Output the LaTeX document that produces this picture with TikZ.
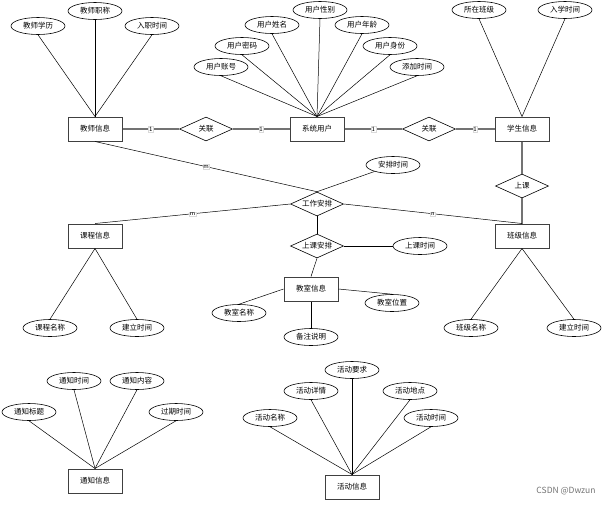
\documentclass[tikz,border=0pt]{standalone}
\usepackage{fontspec}
\newfontfamily\cjk{Noto Sans CJK SC}
\usetikzlibrary{shapes.geometric}
\begin{document}
\begin{tikzpicture}[x=1pt,y=-1pt,
  txt/.style={font=\cjk\fontsize{7.5}{9}\selectfont},
  ent/.style={txt,rectangle,draw=black!75,line width=1pt,minimum width=54pt,minimum height=24pt,inner sep=0pt},
  attr/.style={txt,ellipse,draw,line width=0.6pt,minimum width=54pt,minimum height=17pt,inner sep=0pt},
  rel/.style={txt,diamond,draw,line width=0.6pt,aspect=2.2,minimum width=53pt,minimum height=24pt,inner sep=0.5pt},
  al/.style={draw=black,line width=0.5pt},
  gl/.style={draw=black!55,line width=1.1pt},
  bl/.style={draw=black,line width=0.8pt},
  card/.style={font=\sffamily\fontsize{6.5}{7}\selectfont,text=black,fill=white,draw=black!15,line width=0.3pt,inner sep=0.6pt}
]
\useasboundingbox (0,0) rectangle (604,504);
\fill[white] (0,0) rectangle (604,504);

% entities
\node[ent] (js) at (95,129) {教师信息};
\node[ent] (xt) at (317,129) {系统用户};
\node[ent] (xs) at (522,129) {学生信息};
\node[ent] (kc) at (95,236) {课程信息};
\node[ent] (bj) at (522,236) {班级信息};
\node[ent] (jsx) at (311,289) {教室信息};
\node[ent] (tz) at (95,481) {通知信息};
\node[ent] (hd) at (352,487) {活动信息};

% relations
\node[rel] (gl1) at (206,129) {关联};
\node[rel] (gl2) at (429,129) {关联};
\node[rel] (gz) at (317,204) {工作安排};
\node[rel] (sk) at (317,246) {上课安排};
\node[rel] (skr) at (522,186) {上课};

% teacher attributes
\node[attr] (jsxl) at (38,26) {教师学历};
\node[attr] (jszc) at (95,11) {教师职称};
\node[attr] (rzsj) at (152,26) {入职时间};
% system user attributes
\node[attr] (yhzh) at (221,67) {用户账号};
\node[attr] (yhmm) at (242,46) {用户密码};
\node[attr] (yhxm) at (272,25) {用户姓名};
\node[attr] (yhxb) at (320,10) {用户性别};
\node[attr] (yhnl) at (362,25) {用户年龄};
\node[attr] (yhsf) at (390,46) {用户身份};
\node[attr] (tjsj) at (417,67) {添加时间};
% student attributes
\node[attr] (szbj) at (479,10) {所在班级};
\node[attr] (rxsj) at (565,10) {入学时间};
% schedule
\node[attr] (apsj) at (393,165) {安排时间};
\node[attr] (sksj) at (420,246) {上课时间};
% course
\node[attr] (kcmc) at (50,328) {课程名称};
\node[attr] (kcjl) at (137,328) {建立时间};
% class
\node[attr] (bjmc) at (471,328) {班级名称};
\node[attr] (bjjl) at (574,328) {建立时间};
% classroom
\node[attr] (jsmc) at (239,313) {教室名称};
\node[attr] (jswz) at (392,303) {教室位置};
\node[attr] (bzsm) at (311,337) {备注说明};
% notice
\node[attr] (tzsj) at (74,381) {通知时间};
\node[attr] (tznr) at (137,381) {通知内容};
\node[attr] (tzbt) at (29,412) {通知标题};
\node[attr] (gqsj) at (176,412) {过期时间};
% activity
\node[attr] (hdyq) at (352,370) {活动要求};
\node[attr] (hdxq) at (311,391) {活动详情};
\node[attr] (hddd) at (410,391) {活动地点};
\node[attr] (hdmc) at (270,418) {活动名称};
\node[attr] (hdsj) at (431,418) {活动时间};

% attribute lines
\foreach \a in {jsxl,jszc,rzsj} \draw[al] (\a.south) -- (js.north);
\foreach \a in {yhzh,yhmm,yhxm,yhxb,yhnl,yhsf,tjsj} \draw[al] (\a.south) -- (xt.north);
\foreach \a in {szbj,rxsj} \draw[al] (\a.south) -- (xs.north);
\foreach \a in {kcmc,kcjl} \draw[al] (kc.south) -- (\a.north);
\foreach \a in {bjmc,bjjl} \draw[al] (bj.south) -- (\a.north);
\foreach \a in {tzsj,tznr,tzbt,gqsj} \draw[al] (\a.south) -- (tz.north);
\foreach \a in {hdyq,hdxq,hddd,hdmc,hdsj} \draw[al] (\a.south) -- (hd.north);
\draw[al] (jsx.west) -- (jsmc.north);
\draw[al] (jsx.east) -- (jswz.north);
\draw[bl] (jsx.south) -- (bzsm.north);
\draw[al] (gz.north) -- (apsj);
\draw[bl] (sk.east) -- (sksj.west);
\draw[bl] (gz.south) -- (sk.north);
\draw[al] (sk.south) -- (jsx.north);

% relationship lines
\draw[gl] (js.east) -- node[card] {1} (gl1.west);
\draw[gl] (gl1.east) -- node[card] {1} (xt.west);
\draw[gl] (xt.east) -- node[card] {1} (gl2.west);
\draw[gl] (gl2.east) -- node[card] {1} (xs.west);
\draw[gl] (xs.south) -- (skr.north);
\draw[gl] (skr.south) -- (bj.north);
\draw[al] (js.south) -- node[card] {m} (gz.north);
\draw[al] (kc.north) -- node[card] {m} (gz.west);
\draw[al] (gz.east) -- node[card] {n} (bj.north);

% watermark
\node[font=\cjk\fontsize{8.5}{10}\selectfont,text=black!55,anchor=east] (wm) at (599,491) {CSDN @Dwzun};
\end{tikzpicture}
\end{document}
